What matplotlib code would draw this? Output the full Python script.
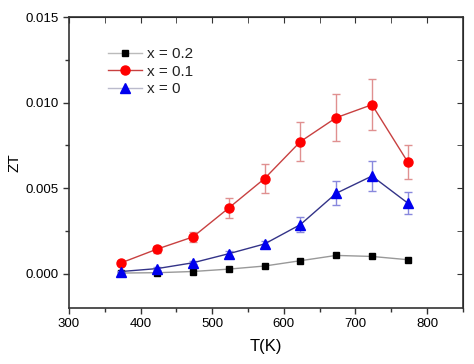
import matplotlib
matplotlib.use('Agg')
import matplotlib.pyplot as plt
from matplotlib.ticker import MultipleLocator
from matplotlib.lines import Line2D

plt.rcParams['font.family'] = ['Liberation Sans', 'DejaVu Sans']

temps = [373, 423, 473, 523, 573, 623, 673, 723, 773]
zt_02 = [0.00004, 0.00006, 0.00013, 0.00027, 0.00045, 0.00076, 0.00107, 0.00101, 0.00082]
zt_01 = [0.00064, 0.00144, 0.00215, 0.00384, 0.00556, 0.00772, 0.00912, 0.00988, 0.00653]
err_01 = [0.0001, 0.0002, 0.0003, 0.0006, 0.00084, 0.00116, 0.00137, 0.0015, 0.00097]
zt_00 = [0.00013, 0.0003, 0.00064, 0.00117, 0.00174, 0.00287, 0.0047, 0.00571, 0.00413]
err_00 = [0.00005, 0.00008, 0.0001, 0.00015, 0.0002, 0.00044, 0.0007, 0.00087, 0.00062]

fig = plt.figure(figsize=(4.74, 3.64), dpi=100)
ax = fig.add_axes([0.1456, 0.154, 0.831, 0.799])

ax.plot(temps, zt_02, color='#999999', lw=1, marker='s', ms=5,
        mfc='black', mec='black')
ax.errorbar(temps, zt_01, yerr=err_01, color='#c84040', lw=1, marker='o', ms=6.5,
            mfc='red', mec='red', ecolor='#e09090', elinewidth=1, capsize=3)
ax.errorbar(temps, zt_00, yerr=err_00, color='#333388', lw=1, marker='^', ms=6.5,
            mfc='#0000ee', mec='#0000ee', ecolor='#8888dd', elinewidth=1, capsize=3)

ax.set_xlim(300, 850)
ax.set_ylim(-0.002, 0.015)
ax.xaxis.set_major_locator(MultipleLocator(100))
ax.xaxis.set_minor_locator(MultipleLocator(50))
ax.yaxis.set_major_locator(MultipleLocator(0.005))
ax.yaxis.set_minor_locator(MultipleLocator(0.0025))
ax.yaxis.set_major_formatter(plt.FormatStrFormatter('%.3f'))

ax.tick_params(which='both', direction='out', labelsize=9.5, width=1, color='#333333')
ax.tick_params(which='major', length=4)
ax.tick_params(which='minor', length=3)
for spine in ax.spines.values():
    spine.set_linewidth(1.2)
    spine.set_color('#333333')

# inward ticks on top and right
ax2 = ax.secondary_xaxis('top')
ax2.xaxis.set_major_locator(MultipleLocator(100))
ax2.xaxis.set_minor_locator(MultipleLocator(50))
ax2.tick_params(which='both', direction='in', labeltop=False, length=4, color='#333333')
ax3 = ax.secondary_yaxis('right')
ax3.yaxis.set_major_locator(MultipleLocator(0.005))
ax3.yaxis.set_minor_locator(MultipleLocator(0.0025))
ax3.tick_params(which='both', direction='in', labelright=False, length=4, color='#333333')

ax.set_xlabel('T(K)', fontsize=12, labelpad=6)
ax.set_ylabel('ZT', fontsize=11, labelpad=3)

handles = [
    Line2D([], [], color='#bbbbbb', lw=1, marker='s', ms=5, mfc='black', mec='black'),
    Line2D([], [], color='#c84040', lw=1, marker='o', ms=6.5, mfc='red', mec='red'),
    Line2D([], [], color='#bbbbcc', lw=1, marker='^', ms=6.5, mfc='#0000ee', mec='#0000ee'),
]
labels = ['x = 0.2', 'x = 0.1', 'x = 0']
leg = ax.legend(handles, labels, loc='upper left', bbox_to_anchor=(0.065, 0.945),
                frameon=False, fontsize=11, handlelength=2.2, labelspacing=0.25,
                handletextpad=0.3)
for t in leg.get_texts():
    t.set_color('#222222')

fig.savefig('out.png', dpi=100)
